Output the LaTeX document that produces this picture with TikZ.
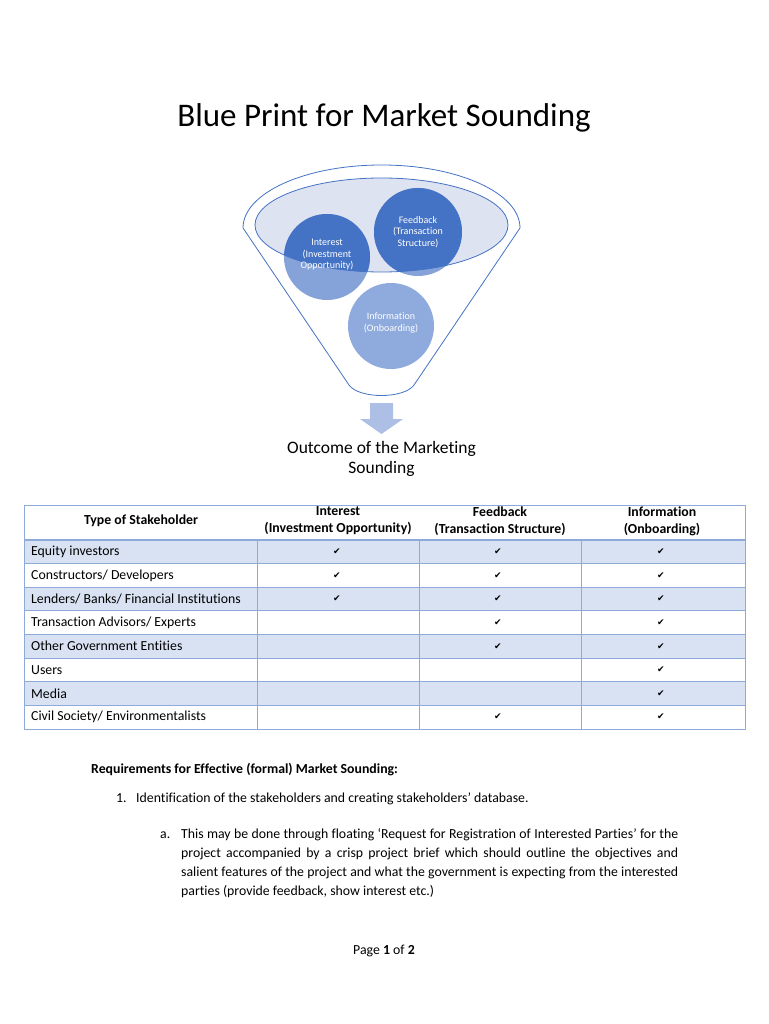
\documentclass[tikz,border=0pt]{standalone}
\usepackage{fontspec}
\setmainfont{Carlito}[Ligatures=NoCommon]
\newfontfamily\symfont{DejaVu Sans}
\definecolor{accdark}{HTML}{4472C4}
\definecolor{acclight}{HTML}{86A3D9}
\definecolor{infocol}{HTML}{8FAADC}
\definecolor{ellfill}{HTML}{DEE3F2}
\definecolor{arrowcol}{HTML}{ADBFE4}
\definecolor{tabline}{HTML}{8EAADB}
\definecolor{tabfill}{HTML}{D9E2F3}
\newcommand{\ck}{{\symfont\fontsize{9}{9}\selectfont ✔}}
\begin{document}
\begin{tikzpicture}[x=1pt,y=-1pt,
  bodytext/.style={font=\fontsize{13.8}{16}\selectfont, inner sep=0pt, anchor=base west},
  celltext/.style={font=\fontsize{13.8}{16}\selectfont, inner sep=0pt},
  headtext/.style={font=\fontsize{13.8}{17}\selectfont\bfseries, inner sep=0pt, align=center},
  circtext/.style={font=\fontsize{10}{11.5}\selectfont, text=white, align=center, inner sep=0pt},
  outline/.style={draw=accdark, line width=0.8pt},
  gridline/.style={draw=tabline, line width=0.8pt}]
\useasboundingbox[fill=white] (0,0) rectangle (768,1024);

% Title
\node[font=\fontsize{33}{38}\selectfont, inner sep=0pt] (title) at (384,118) {Blue Print for Market Sounding};

% Funnel outer outline
\draw[outline] (243,228) .. controls (243,193) and (305,165) .. (381.5,165)
  .. controls (458,165) and (520,193) .. (520,228)
  -- (414,385) .. controls (404,399) and (359,399) .. (349,385) -- cycle;

% Inner ellipse fill
\fill[ellfill] (381.5,225) ellipse[x radius=126.5, y radius=47];

% Circles (light parts)
\fill[acclight] (327,257) circle[radius=43];
\fill[acclight] (418,232) circle[radius=44];
\fill[infocol] (391,326) circle[radius=43];
% Dark parts inside ellipse
\begin{scope}
  \clip (381.5,225) ellipse[x radius=126.5, y radius=47];
  \fill[accdark] (327,257) circle[radius=43];
  \fill[accdark] (418,232) circle[radius=44];
\end{scope}
\draw[outline] (381.5,225) ellipse[x radius=126.5, y radius=47];

\node[circtext] (interest) at (327,255) {Interest\\(Investment\\Opportunity)};
\node[circtext] (feedback) at (418,232) {Feedback\\(Transaction\\Structure)};
\node[circtext] (info) at (391,323) {Information\\(Onboarding)};

% Down arrow
\fill[arrowcol] (370,403) -- (393,403) -- (393,419) -- (403,419) -- (381.5,434) -- (360,419) -- (370,419) -- cycle;

% Outcome text
\node[font=\fontsize{17.5}{20}\selectfont, align=center, inner sep=0pt] (outcome) at (381.5,459) {Outcome of the Marketing\\Sounding};

% Table
\def\rh{23.6}
\foreach \i in {0,2,4,6} {
  \fill[tabfill] (24,{540+\rh*\i}) rectangle (745,{540+\rh*(\i+1)});
}
\foreach \i in {1,...,7} {
  \draw[gridline] (24,{540+\rh*\i}) -- (745,{540+\rh*\i});
}
\foreach \x in {257,419,581} {
  \draw[gridline] (\x,540) -- (\x,729);
}
\draw[gridline] (24,505) rectangle (745,729);
\draw[draw=tabline, line width=1.6pt] (24,540) -- (745,540);

\node[headtext] (h1) at (141,521) {Type of Stakeholder};
\node[headtext] (h2) at (338,521) {Interest\\(Investment Opportunity)};
\node[headtext] (h3) at (500,521) {Feedback\\(Transaction Structure)};
\node[headtext] (h4) at (662,521) {Information\\(Onboarding)};

\foreach \lab [count=\i from 0] in {Equity investors, Constructors/ Developers, Lenders/ Banks/ Financial Institutions, Transaction Advisors/ Experts, Other Government Entities, Users, Media, Civil Society/ Environmentalists} {
  \node[celltext, anchor=west] (r\i) at (31,{540+\rh*(\i+0.5)}) {\lab};
}
\foreach \i/\a/\b/\c in {0/1/1/1, 1/1/1/1, 2/1/1/1, 3/0/1/1, 4/0/1/1, 5/0/0/1, 6/0/0/1, 7/0/1/1} {
  \ifnum\a=1 \node[inner sep=0pt] at (337,{540+\rh*(\i+0.5)}) {\ck}; \fi
  \ifnum\b=1 \node[inner sep=0pt] at (498,{540+\rh*(\i+0.5)}) {\ck}; \fi
  \ifnum\c=1 \node[inner sep=0pt] at (661,{540+\rh*(\i+0.5)}) {\ck}; \fi
}

% Requirements text
\node[bodytext, font=\fontsize{13.8}{16}\selectfont\bfseries] (req) at (91,773) {Requirements for Effective (formal) Market Sounding:};
\node[bodytext] (n1) at (116,802) {1.};
\node[bodytext] (t1) at (136,802) {Identification of the stakeholders and creating stakeholders’ database.};
\node[bodytext] (na) at (160,838) {a.};
\node[bodytext] (ta1) at (181,838) {\makebox[497pt][s]{This may be done through floating ‘Request for Registration of Interested Parties’ for the}};
\node[bodytext] (ta2) at (181,857) {\makebox[497pt][s]{project accompanied by a crisp project brief which should outline the objectives and}};
\node[bodytext] (ta3) at (181,876) {\makebox[497pt][s]{salient features of the project and what the government is expecting from the interested}};
\node[bodytext] (ta4) at (181,895) {parties (provide feedback, show interest etc.)};

% Footer
\node[font=\fontsize{13.8}{16}\selectfont, inner sep=0pt] (footer) at (384,951) {Page \textbf{1} of \textbf{2}};
\end{tikzpicture}
\end{document}
